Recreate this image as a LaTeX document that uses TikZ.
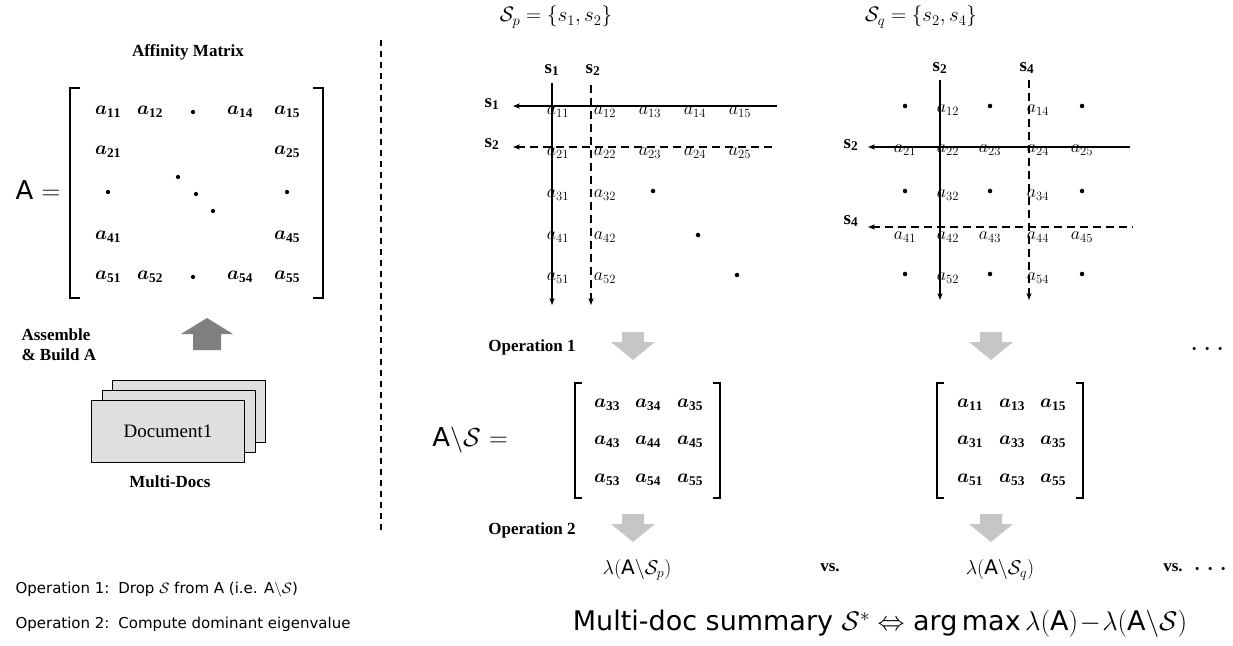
\documentclass[tikz,border=0pt]{standalone}
\usepackage{fix-cm}
\usepackage{amsmath,amssymb,bm}
\usepackage{fontspec}
\setmainfont{Liberation Serif}
\setsansfont{DejaVu Sans}
\usetikzlibrary{arrows.meta}
\newcommand{\ba}[1]{\bm{a}_{\mathbf{#1}}}
\newcommand{\bs}[1]{\mathbf{s}_{\mathbf{#1}}}
\begin{document}
\begin{tikzpicture}[x=1pt,y=-1pt,
  mt/.style={font=\fontsize{19}{22}\selectfont},
  gt/.style={font=\fontsize{18}{20}\selectfont},
  lb/.style={font=\fontsize{17}{20}\selectfont\bfseries},
  ar/.style={line width=1.6pt,-{Stealth[length=7pt]},{Stealth[length=7pt]}-},
  dar/.style={ar,dash pattern=on 8pt off 5pt},
  dotn/.style={circle,fill,inner sep=1.6pt},
  garrow/.style={fill=gray!45,draw=none},
  brk/.style={line width=2.5pt}]
\useasboundingbox (0,0) rectangle (1233,645);
% left
\node[lb] (title) at (188,52) {Affinity Matrix};
\draw[line width=1.2pt,dash pattern=on 6pt off 5pt] (381,40) -- (381,530);
\node[font=\fontsize{26}{30}\selectfont\sffamily] (A) at (38,190) {A $=$};
\draw[brk] (80,88) -- (70,88) -- (70,298) -- (80,298);
\draw[brk] (313,88) -- (323,88) -- (323,298) -- (313,298);
\foreach \t/\x/\y in {11/108/112,12/150/112,14/240/112,15/287/112,21/108/152,25/287/152,41/108/237,45/287/237,51/108/277,52/150/277,54/240/277,55/287/277}
  \node[mt] (m\t) at (\x,\y) {$\ba{\t}$};
\foreach \x/\y [count=\i] in {193/112,193/277,108/192,287/192,178/177,196/194,213/211}
  \node[dotn,inner sep=1.5pt] (ld\i) at (\x,\y) {};
\node[lb,align=left,anchor=west] (asm) at (18,345) {Assemble\\\& Build A};
\fill[gray] (193,350) -- (193,334) -- (181,334) -- (207,318) -- (233,334) -- (221,334) -- (221,350) -- cycle;
\foreach \o in {20,10} \draw[fill=gray!25] (92+\o,400-\o) rectangle (245+\o,462-\o);
\node[draw,fill=gray!25,minimum width=153pt,minimum height=62pt,font=\fontsize{19}{22}\selectfont] (doc) at (168,431) {Document1};
\node[lb] (md) at (170,482) {Multi-Docs};
% grid 1
\node[font=\fontsize{21}{24}\selectfont] (t1) at (556,17) {$\mathcal{S}_p=\{s_1,s_2\}$};
\foreach \c/\x in {1/558,2/605,3/650,4/695,5/740}{
  \node[gt] (g1a1\c) at (\x,112) {$a_{1\c}$};
  \node[gt] (g1a2\c) at (\x,153) {$a_{2\c}$};}
\foreach \r/\y in {3/195,4/237,5/278}{
  \node[gt] (g1a\r1) at (558,\y) {$a_{\r1}$};
  \node[gt] (g1a\r2) at (605,\y) {$a_{\r2}$};}
\node[dotn] (g1d1) at (653,191) {};
\node[dotn] (g1d2) at (698,235) {};
\node[dotn] (g1d3) at (737,275) {};
\coordinate (v1t) at (552,83); \coordinate (v1b) at (552,305);
\coordinate (v2t) at (591,83); \coordinate (v2b) at (591,305);
\coordinate (h1l) at (513,106); \coordinate (h1r) at (777,106);
\coordinate (h2l) at (513,147); \coordinate (h2r) at (777,147);
\draw[ar] (v1b) -- (v1t); \draw[dar] (v2b) -- (v2t);
\draw[ar] (h1l) -- (h1r); \draw[dar] (h2l) -- (h2r);
\node[mt] (l1a) at (552,70) {$\bs{1}$};
\node[mt] (l1b) at (593,70) {$\bs{2}$};
\node[mt] (l1c) at (492,104) {$\bs{1}$};
\node[mt] (l1d) at (492,144) {$\bs{2}$};
% grid 2
\node[font=\fontsize{21}{24}\selectfont] (t2) at (921,17) {$\mathcal{S}_q=\{s_2,s_4\}$};
\foreach \c/\x in {1/905,2/948,3/990,4/1038,5/1082}{
  \node[gt] (g2a2\c) at (\x,150) {$a_{2\c}$};
  \node[gt] (g2a4\c) at (\x,237) {$a_{4\c}$};}
\foreach \r/\y in {1/110,3/195,5/278}{
  \node[gt] (g2a\r2) at (948,\y) {$a_{\r2}$};
  \node[gt] (g2a\r4) at (1038,\y) {$a_{\r4}$};
  \node[dotn] (g2d\r a) at (905,\y-4) {};
  \node[dotn] (g2d\r b) at (990,\y-4) {};
  \node[dotn] (g2d\r c) at (1082,\y-4) {};}
\coordinate (w1t) at (940,80); \coordinate (w1b) at (940,300);
\coordinate (w2t) at (1029,80); \coordinate (w2b) at (1029,300);
\coordinate (k1l) at (868,147); \coordinate (k1r) at (1130,147);
\coordinate (k2l) at (868,227); \coordinate (k2r) at (1133,227);
\draw[ar] (w1b) -- (w1t); \draw[dar] (w2b) -- (w2t);
\draw[ar] (k1l) -- (k1r); \draw[dar] (k2l) -- (k2r);
\node[mt] (l2a) at (940,68) {$\bs{2}$};
\node[mt] (l2b) at (1027,68) {$\bs{4}$};
\node[mt] (l2c) at (851,145) {$\bs{2}$};
\node[mt] (l2d) at (851,221) {$\bs{4}$};
% operations
\node[lb] (op1) at (532,347) {Operation 1};
\node[lb] (op2) at (532,530) {Operation 2};
\foreach \x/\y in {633/332,991/332,633/514,991/514}
  \fill[garrow] (\x-11,\y) -- (\x+11,\y) -- (\x+11,\y+10) -- (\x+22,\y+10) -- (\x,\y+28) -- (\x-22,\y+10) -- (\x-11,\y+10) -- cycle;
\node[font=\fontsize{30}{30}\selectfont] (dots1) at (1210,350) {$\cdots$};
\node[font=\fontsize{26}{30}\selectfont\sffamily] (AS) at (470,440) {A$\backslash\mathcal{S}$ $=$};
\draw[brk] (582,383) -- (575,383) -- (575,498) -- (582,498);
\draw[brk] (713,383) -- (720,383) -- (720,498) -- (713,498);
\draw[brk] (944,383) -- (937,383) -- (937,498) -- (944,498);
\draw[brk] (1076,383) -- (1083,383) -- (1083,498) -- (1076,498);
\foreach \r/\y in {3/405,4/442,5/480}{
  \node[mt] (p\r3) at (607,\y) {$\ba{\r3}$};
  \node[mt] (p\r4) at (648,\y) {$\ba{\r4}$};
  \node[mt] (p\r5) at (690,\y) {$\ba{\r5}$};}
\foreach \r/\y in {1/405,3/442,5/480}{
  \node[mt] (q\r1) at (970,\y) {$\ba{\r1}$};
  \node[mt] (q\r3) at (1012,\y) {$\ba{\r3}$};
  \node[mt] (q\r5) at (1053,\y) {$\ba{\r5}$};}
\node[font=\fontsize{20}{24}\selectfont\sffamily] (lp) at (637,570) {$\lambda($A$\backslash\mathcal{S}_p)$};
\node[lb] (vs1) at (830,568) {vs.};
\node[font=\fontsize{20}{24}\selectfont\sffamily] (lq) at (1000,570) {$\lambda($A$\backslash\mathcal{S}_q)$};
\node[lb] (vs2) at (1173,568) {vs.};
\node[font=\fontsize{30}{30}\selectfont] (dots2) at (1213,570) {$\cdots$};
\node[anchor=west,font=\fontsize{15}{18}\selectfont\sffamily] (o1) at (12,590) {Operation 1:\, Drop $\mathcal{S}$ from A (i.e. A$\backslash\mathcal{S}$)};
\node[anchor=west,font=\fontsize{15}{18}\selectfont\sffamily] (o2) at (12,624) {Operation 2:\, Compute dominant eigenvalue};
\node[font=\fontsize{27}{30}\selectfont\sffamily] (sum) at (880,624) {Multi-doc summary $\mathcal{S}^*\Leftrightarrow$ arg\,max\,$\lambda($A$)\!-\!\lambda($A$\backslash\mathcal{S})$};
\end{tikzpicture}
\end{document}
